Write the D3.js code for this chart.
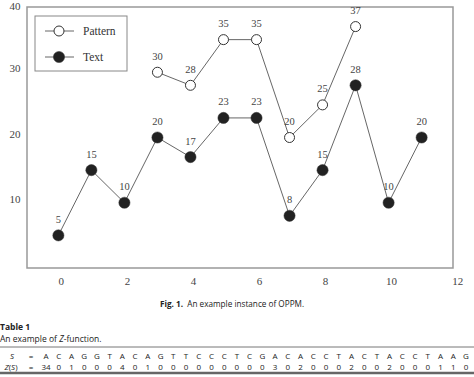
<!DOCTYPE html>
<html>
<head>
<meta charset="utf-8">
<script src="https://cdn.jsdelivr.net/npm/d3@7"></script>
<style>
  body { margin: 0; background: #fff; }
  svg { display: block; }
</style>
</head>
<body>
<svg id="drawing_region"></svg>
<script>
// values
const xTicks = [0, 2, 4, 6, 8, 10, 12];
const yTicks = [10, 20, 30, 40];
const textX = [0, 1, 2, 3, 4, 5, 6, 7, 8, 9, 10, 11];
const textValues = [5, 15, 10, 20, 17, 23, 23, 8, 15, 28, 10, 20];
const patternX = [3, 4, 5, 6, 7, 8, 9];
const patternValues = [30, 28, 35, 35, 20, 25, 37];
const seqS = "ACAGGTACAGTTCCCTCGACACCTACTACCTAAG".split("");
const seqZ = [34, 0, 1, 0, 0, 0, 4, 0, 1, 0, 0, 0, 0, 0, 0, 0, 0, 0, 3, 0, 2, 0, 0, 0, 2, 0, 0, 2, 0, 0, 0, 1, 1, 0];

const config = {
    width: 474,
    height: 377,
    plot: { left: 27, top: 7, right: 453, bottom: 268 }
};

const svg = d3.select('#drawing_region')
    .attr('width', config.width)
    .attr('height', config.height);

const serif = '"Liberation Serif", "DejaVu Serif", serif';
const sans = '"Open Sans", "Noto Sans", sans-serif';

const xscale = d3.scaleLinear()
    .domain([-0.95, 11.95])
    .range([config.plot.left, config.plot.right]);
const yscale = d3.scaleLinear()
    .domain([0, 40])
    .range([config.plot.bottom, config.plot.top]);

// frame
svg.append('rect')
    .attr('x', config.plot.left)
    .attr('y', config.plot.top)
    .attr('width', config.plot.right - config.plot.left)
    .attr('height', config.plot.bottom - config.plot.top)
    .attr('fill', 'none')
    .attr('stroke', '#999')
    .attr('stroke-width', 1.5);

// tick labels (no tick marks in the original)
svg.append('g').selectAll('text')
    .data(xTicks)
    .join('text')
    .attr('x', d => xscale(d) + 3)
    .attr('y', 281)
    .attr('text-anchor', 'middle')
    .attr('dominant-baseline', 'central')
    .style('font-family', serif)
    .style('font-size', '11px')
    .attr('fill', '#444')
    .text(d => d);

svg.append('g').selectAll('text')
    .data(yTicks)
    .join('text')
    .attr('x', 15)
    .attr('y', d => Math.max(yscale(d) - 4, 6))
    .attr('text-anchor', 'middle')
    .attr('dominant-baseline', 'central')
    .style('font-family', serif)
    .style('font-size', '11px')
    .attr('fill', '#444')
    .text(d => d);

const line = d3.line()
    .x(d => xscale(d[0]))
    .y(d => yscale(d[1]));

const textPts = d3.zip(textX, textValues);
const patternPts = d3.zip(patternX, patternValues);

function drawSeries(pts, filled) {
    const g = svg.append('g');
    g.append('path')
        .attr('d', line(pts))
        .attr('fill', 'none')
        .attr('stroke', '#555')
        .attr('stroke-width', 0.9);
    g.selectAll('circle')
        .data(pts)
        .join('circle')
        .attr('cx', d => xscale(d[0]))
        .attr('cy', d => yscale(d[1]))
        .attr('r', filled ? 5.6 : 5)
        .attr('fill', filled ? '#222' : '#fff')
        .attr('stroke', '#333')
        .attr('stroke-width', filled ? 0.5 : 1);
    g.selectAll('text')
        .data(pts)
        .join('text')
        .attr('x', d => xscale(d[0]))
        .attr('y', d => yscale(d[1]) - 16)
        .attr('text-anchor', 'middle')
        .attr('dominant-baseline', 'central')
        .style('font-family', serif)
        .style('font-size', '10.5px')
        .attr('fill', '#444')
        .text(d => d[1]);
}

drawSeries(textPts, true);
drawSeries(patternPts, false);

// legend
const legend = svg.append('g');
legend.append('rect')
    .attr('x', 35).attr('y', 16)
    .attr('width', 92).attr('height', 55)
    .attr('fill', '#fff')
    .attr('stroke', '#888')
    .attr('stroke-width', 1);
[['Pattern', false, 31], ['Text', true, 57]].forEach(([name, filled, y]) => {
    legend.append('line')
        .attr('x1', 45).attr('x2', 74)
        .attr('y1', y).attr('y2', y)
        .attr('stroke', '#555')
        .attr('stroke-width', 0.9);
    legend.append('circle')
        .attr('cx', 59).attr('cy', y)
        .attr('r', filled ? 5.6 : 5)
        .attr('fill', filled ? '#222' : '#fff')
        .attr('stroke', '#333')
        .attr('stroke-width', filled ? 0.5 : 1);
    legend.append('text')
        .attr('x', 83).attr('y', y)
        .attr('dominant-baseline', 'central')
        .style('font-family', serif)
        .style('font-size', '11.5px')
        .attr('fill', '#333')
        .text(name);
});

// caption
const cap = svg.append('text')
    .attr('x', 232)
    .attr('y', 303)
    .attr('text-anchor', 'middle')
    .attr('dominant-baseline', 'central')
    .style('font-family', sans)
    .style('font-size', '8.2px')
    .attr('fill', '#222');
cap.append('tspan').style('font-weight', 'bold').text('Fig. 1.');
cap.append('tspan').text('\u00a0 An example instance of OPPM.');

// table
svg.append('text')
    .attr('x', 0).attr('y', 326)
    .attr('dominant-baseline', 'central')
    .style('font-family', sans)
    .style('font-size', '8.5px')
    .style('font-weight', 'bold')
    .attr('fill', '#222')
    .text('Table 1');
const sub = svg.append('text')
    .attr('x', 0).attr('y', 337.5)
    .attr('dominant-baseline', 'central')
    .style('font-family', sans)
    .style('font-size', '8.5px')
    .attr('fill', '#222');
sub.append('tspan').text('An example of ');
sub.append('tspan').style('font-style', 'italic').text('Z');
sub.append('tspan').text('-function.');

svg.append('line')
    .attr('x1', 0).attr('x2', 474)
    .attr('y1', 347).attr('y2', 347)
    .attr('stroke', '#777').attr('stroke-width', 1);
svg.append('line')
    .attr('x1', 0).attr('x2', 474)
    .attr('y1', 373).attr('y2', 373)
    .attr('stroke', '#666').attr('stroke-width', 2.5);

const colScale = d3.scaleLinear()
    .domain([0, seqS.length - 1])
    .range([46, 466]);

const cellFont = '8px';
const rows = [[seqS, 355], [seqZ, 366]];
rows.forEach(([vals, y]) => {
    svg.append('g').selectAll('text')
        .data(vals)
        .join('text')
        .attr('x', (d, i) => colScale(i))
        .attr('y', y)
        .attr('text-anchor', 'middle')
        .attr('dominant-baseline', 'central')
        .style('font-family', sans)
        .style('font-size', cellFont)
        .attr('fill', '#222')
        .text(d => d);
    svg.append('text')
        .attr('x', 31).attr('y', y)
        .attr('text-anchor', 'middle')
        .attr('dominant-baseline', 'central')
        .style('font-family', sans)
        .style('font-size', cellFont)
        .attr('fill', '#222')
        .text('=');
});

svg.append('text')
    .attr('x', 12).attr('y', 355)
    .attr('text-anchor', 'middle')
    .attr('dominant-baseline', 'central')
    .style('font-family', sans)
    .style('font-size', cellFont)
    .style('font-style', 'italic')
    .attr('fill', '#222')
    .text('S');
const zl = svg.append('text')
    .attr('x', 11).attr('y', 366)
    .attr('text-anchor', 'middle')
    .attr('dominant-baseline', 'central')
    .style('font-family', sans)
    .style('font-size', cellFont)
    .attr('fill', '#222');
zl.append('tspan').style('font-style', 'italic').text('Z');
zl.append('tspan').text('(');
zl.append('tspan').style('font-style', 'italic').text('S');
zl.append('tspan').text(')');
</script>
</body>
</html>
